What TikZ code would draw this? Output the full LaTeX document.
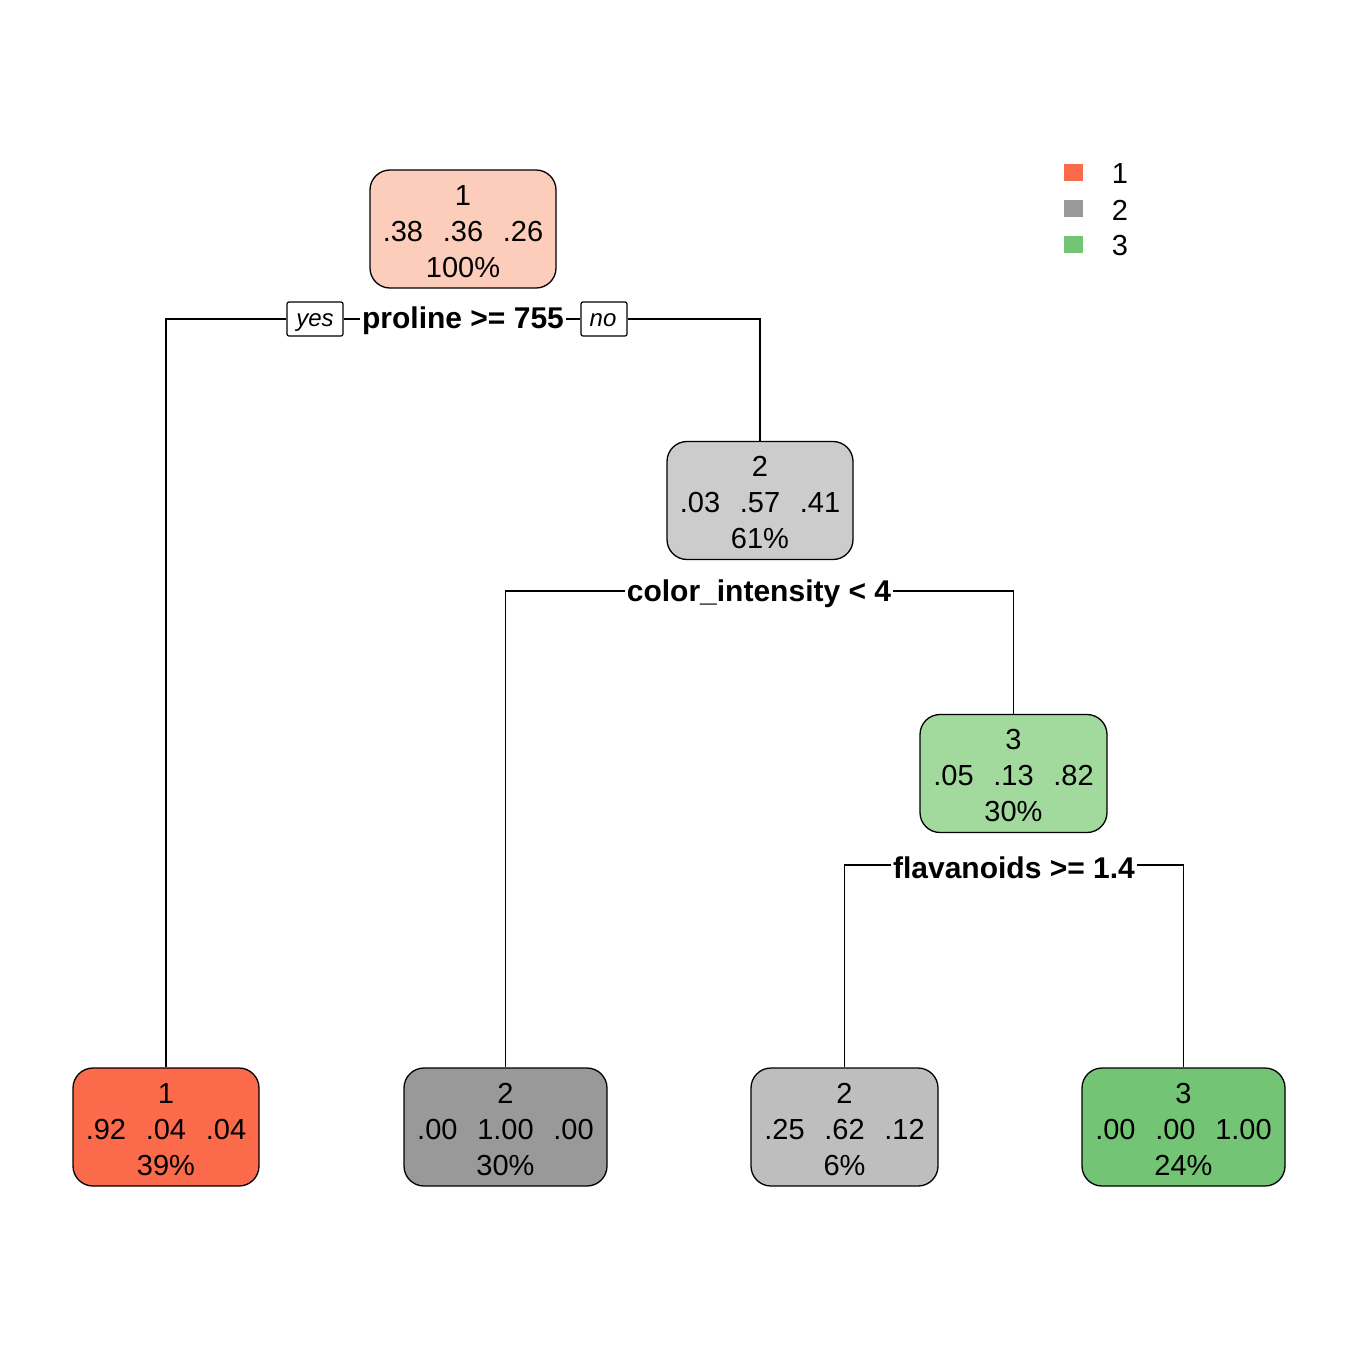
\documentclass[tikz,border=0pt]{standalone}
\usepackage{fontspec}
\setmainfont{Liberation Sans}
\definecolor{cRoot}{HTML}{FCCDBA}
\definecolor{cNtwo}{HTML}{CCCCCC}
\definecolor{cNthree}{HTML}{A2D99C}
\definecolor{cLone}{HTML}{FB6A4A}
\definecolor{cLtwo}{HTML}{999999}
\definecolor{cLthree}{HTML}{BEBEBE}
\definecolor{cLfour}{HTML}{74C476}
\newcommand{\gp}{\hspace{0.68em}}
\newcommand{\treebox}[5]{%
  \node[treenode,fill=#2,minimum width=#3] (#1) at #4 {};
  \node[nodetext] (#1txt) at ([yshift=-2.5pt]#1.center) {#5};}
\begin{document}
\begin{tikzpicture}[x=1pt,y=-1pt,
  treenode/.style={draw=black,line width=1.3pt,rounded corners=20pt,minimum height=118pt,inner sep=0pt},
  nodetext/.style={align=center,inner sep=0pt,font=\fontsize{29}{36}\selectfont},
  splitlab/.style={fill=white,inner sep=1.5pt,font=\fontsize{30}{36}\selectfont\bfseries},
  yn/.style={draw=black,fill=white,line width=1.2pt,rounded corners=2pt,minimum width=#1,minimum height=34pt,inner sep=0pt},
  yntext/.style={anchor=base,inner sep=0pt,font=\fontsize{24}{28}\selectfont\itshape},
  edge/.style={line width=1.3pt},
  legsq/.style={minimum width=19pt,minimum height=17pt,inner sep=0pt},
  legtx/.style={font=\fontsize{29}{36}\selectfont,inner sep=0pt}]
\useasboundingbox (0,0) rectangle (1358,1358);
\fill[white] (0,0) rectangle (1358,1358);

% nodes
\treebox{root}{cRoot}{186pt}{(463,229)}{1\\.38\gp.36\gp.26\\100\%}
\treebox{n2}{cNtwo}{186pt}{(760,500.5)}{2\\.03\gp.57\gp.41\\61\%}
\treebox{n3}{cNthree}{187pt}{(1013.5,773.5)}{3\\.05\gp.13\gp.82\\30\%}
\treebox{l1}{cLone}{186pt}{(166,1127)}{1\\.92\gp.04\gp.04\\39\%}
\treebox{l2}{cLtwo}{203pt}{(505.5,1127)}{2\\.00\gp1.00\gp.00\\30\%}
\treebox{l3}{cLthree}{187pt}{(844.5,1127)}{2\\.25\gp.62\gp.12\\6\%}
\treebox{l4}{cLfour}{203pt}{(1183.5,1127)}{3\\.00\gp.00\gp1.00\\24\%}

% split labels
\node[splitlab] (s1) at (463,321) {proline >= 755};
\node[yn=56pt] (yes) at (315,319) {};
\node[yntext] (yestxt) at (315,326) {yes};
\node[yn=46pt] (no) at (604,319) {};
\node[yntext] (notxt) at (603,326) {no};
\node[splitlab] (s2) at (759,594) {color\_intensity < 4};
\node[splitlab] (s3) at (1014,868) {flavanoids >= 1.4};

% edges
\draw[edge] (yes.west) -| (l1.north);
\draw[edge] (yes.east) -- (yes.east -| s1.west);
\draw[edge] (no.west) -- (no.west -| s1.east);
\draw[edge] (no.east) -| (n2.north);
\draw[edge] (s2.west |- 0,591) -| (l2.north);
\draw[edge] (s2.east |- 0,591) -| (n3.north);
\draw[edge] (s3.west |- 0,865) -| (l3.north);
\draw[edge] (s3.east |- 0,865) -| (l4.north);

% legend
\node[legsq,fill=cLone] (k1) at (1073.5,172) {};
\node[legsq,fill=cLtwo] (k2) at (1073.5,208) {};
\node[legsq,fill=cLfour] (k3) at (1073.5,244) {};
\node[legtx] (t1) at (1120,174) {1};
\node[legtx] (t2) at (1120,210) {2};
\node[legtx] (t3) at (1120,246) {3};
\end{tikzpicture}
\end{document}
